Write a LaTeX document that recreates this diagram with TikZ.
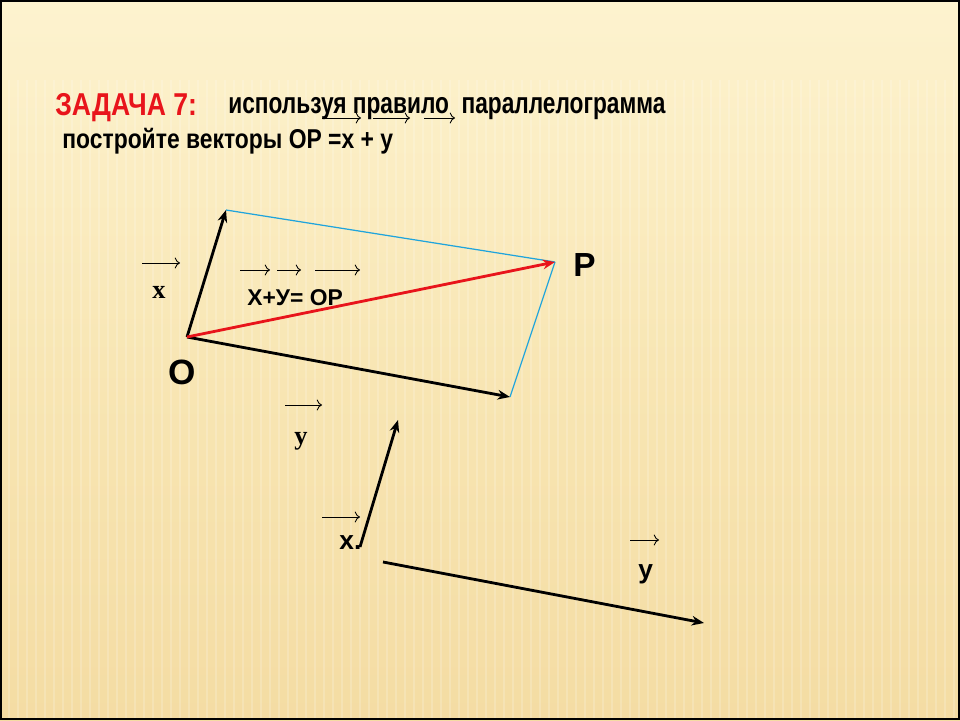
\documentclass[tikz,border=0pt]{standalone}
\usepackage{fontspec}
\setmainfont{Liberation Sans}
\newfontfamily\slidefont[FakeStretch=0.84]{Liberation Sans}
\newfontfamily\narrowfont[FakeStretch=0.76]{Liberation Sans}
\newfontfamily\letterfont{Liberation Serif}
\usetikzlibrary{arrows.meta}
\definecolor{bgtop}{HTML}{FDF3CF}
\definecolor{bgmid}{HTML}{F8E6B4}
\definecolor{bgbot}{HTML}{F4DCA3}
\definecolor{titlered}{HTML}{E8141B}
\definecolor{sidecyan}{HTML}{1FA4DC}
\tikzset{
    vec/.style={line width=1.6pt, -{Stealth[length=7pt,width=5.5pt]}},
    sumvec/.style={vec, titlered},
    side/.style={sidecyan, line width=0.7pt},
    bar/.style={line width=0.5pt, -{To[length=3pt]}},
    lbl/.style={inner sep=0pt, anchor=base west},
}

\begin{document}
\begin{tikzpicture}[x=0.02cm, y=-0.02cm]
        \useasboundingbox (0,0) rectangle (960,720);
        % background of the slide
        \fill [top color=bgtop, bottom color=bgbot, middle color=bgmid] (0,0) rectangle (960,720);
        \foreach \i in {0,9,...,960}
            \draw [white, opacity=0.18, line width=1.6pt] (\i,80) -- (\i,720);
        \draw [line width=1.2pt] (1,1) rectangle (959,719);

        % title
        \node [lbl, titlered] (title) at (55,115) {\slidefont\fontsize{18}{20}\selectfont\bfseries ЗАДАЧА 7:};
        \node [lbl] (rule) at (228,113) {\narrowfont\fontsize{17}{20}\selectfont\bfseries используя правило\ \ параллелограмма};
        \node [lbl] (task) at (62,148) {\slidefont\fontsize{15.5}{18}\selectfont\bfseries постройте векторы ОР =х + у};
        \coordinate (r1) at (322,118); \coordinate (r2) at (361,118);
        \coordinate (r3) at (373,118); \coordinate (r4) at (410,118);
        \coordinate (r5) at (424,118); \coordinate (r6) at (455,118);
        \draw [bar] (r1) -- (r2);
        \draw [bar] (r3) -- (r4);
        \draw [bar] (r5) -- (r6);

        % parallelogram
        \coordinate (O) at (187,337);
        \coordinate (X) at (226,210);
        \coordinate (P) at (555,262);
        \coordinate (Y) at (510,397);
        \draw [side] (X) -- (P);
        \draw [side] (P) -- (Y);
        \draw [vec] (O) -- (X);
        \draw [vec] (O) -- (Y);
        \draw [sumvec] (O) -- (P);

        \node [lbl] (Plbl) at (573,276) {\fontsize{19}{20}\selectfont\bfseries P};
        \node [lbl] (Olbl) at (168,384) {\fontsize{20}{22}\selectfont\bfseries O};
        \node [lbl] (sum) at (247,305) {\fontsize{13}{14}\selectfont\bfseries Х+У= ОР};
        \coordinate (s1) at (240,270); \coordinate (s2) at (270,270);
        \coordinate (s3) at (277,270); \coordinate (s4) at (301,270);
        \coordinate (s5) at (315,270); \coordinate (s6) at (360,270);
        \draw [bar] (s1) -- (s2);
        \draw [bar] (s3) -- (s4);
        \draw [bar] (s5) -- (s6);

        % labels x and y of the parallelogram
        \coordinate (xa) at (142,263); \coordinate (xb) at (180,263);
        \draw [bar] (xa) -- (xb);
        \node [lbl] (xlbl) at (152,298) {\letterfont\fontsize{15}{16}\selectfont\bfseries x};
        \coordinate (ya) at (285,405); \coordinate (yb) at (322,405);
        \draw [bar] (ya) -- (yb);
        \node [lbl] (ylbl) at (294,444) {\letterfont\fontsize{15}{16}\selectfont\bfseries y};

        % given vectors
        \coordinate (gx0) at (360,547);
        \coordinate (gx1) at (398,420);
        \coordinate (gy0) at (383,562);
        \coordinate (gy1) at (704,623);
        \draw [vec] (gx0) -- (gx1);
        \draw [vec] (gy0) -- (gy1);
        \coordinate (ga) at (322,517); \coordinate (gb) at (360,517);
        \draw [bar] (ga) -- (gb);
        \node [lbl] (gxlbl) at (339,549) {\fontsize{15}{16}\selectfont\bfseries x.};
        \coordinate (gc) at (630,540); \coordinate (gd) at (659,540);
        \draw [bar] (gc) -- (gd);
        \node [lbl] (gylbl) at (638,578) {\fontsize{15}{16}\selectfont\bfseries y};
    \end{tikzpicture}
\end{document}
